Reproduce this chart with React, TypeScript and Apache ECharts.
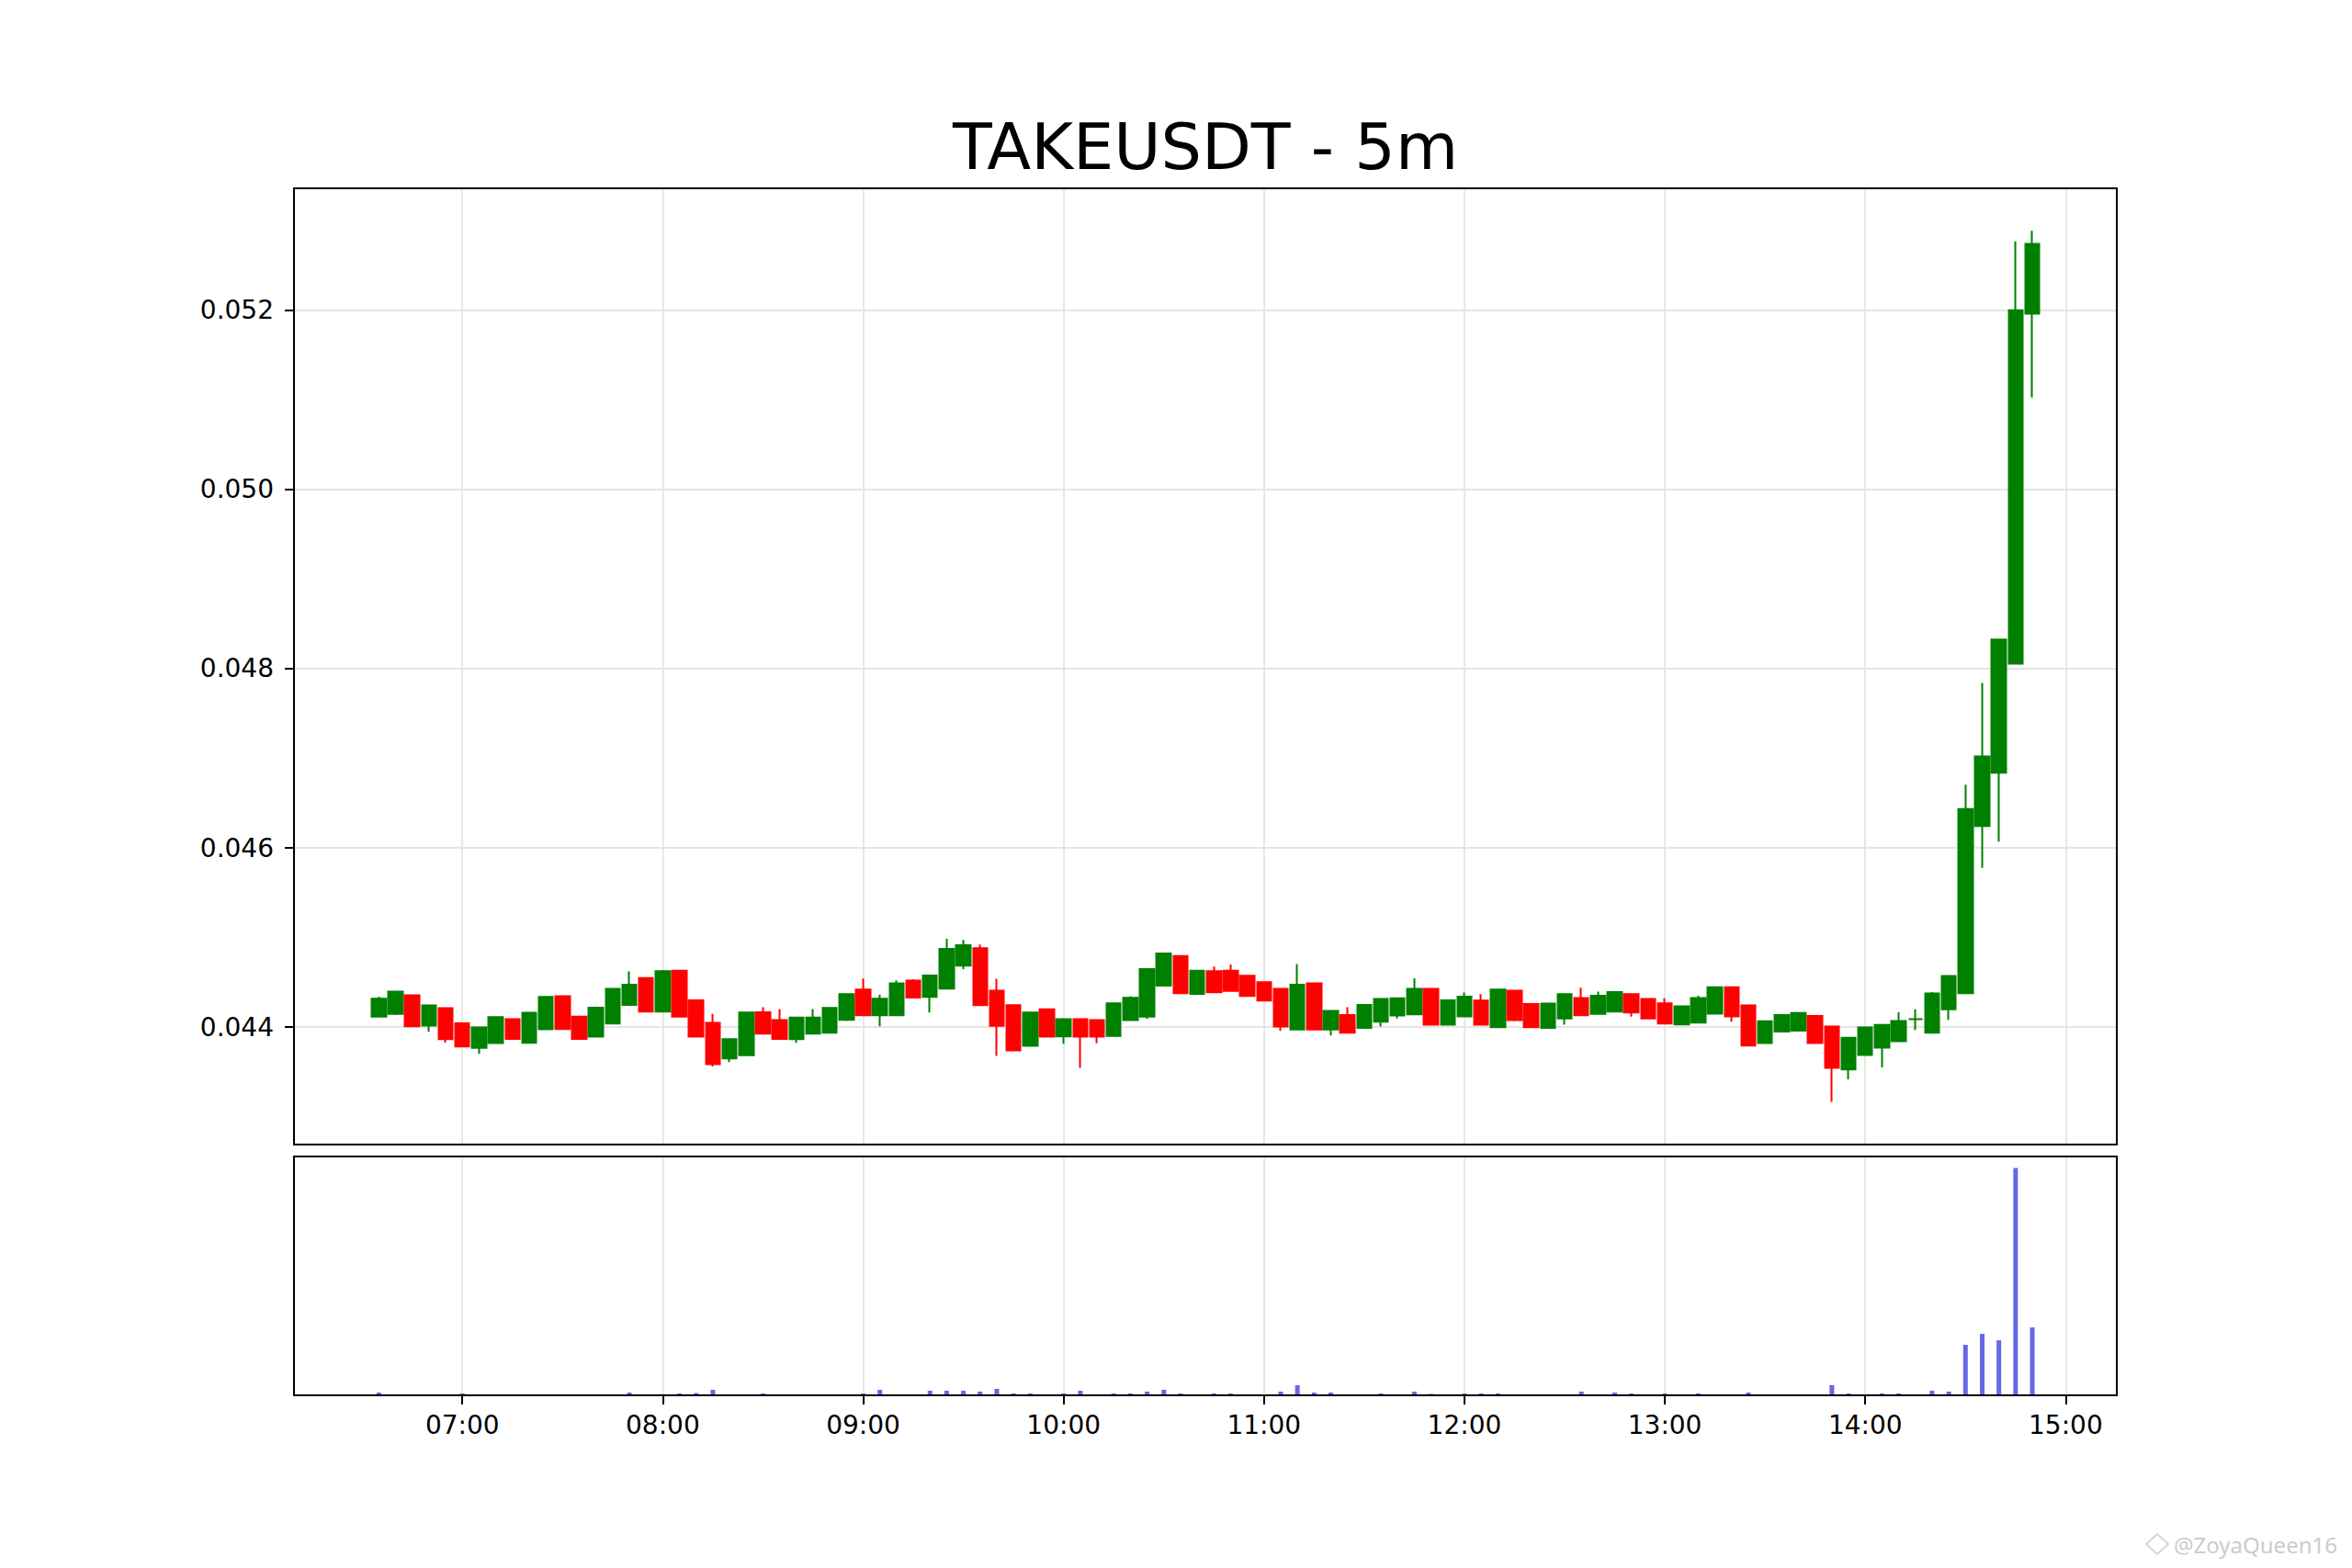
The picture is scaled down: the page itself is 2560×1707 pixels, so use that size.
import React, { useEffect, useRef } from "react";
import * as echarts from "echarts";

const TITLE = "TAKEUSDT - 5m";
const WATERMARK = "@ZoyaQueen16";

const TIMES = [
  "06:35", "06:40", "06:45", "06:50", "06:55",
  "07:00", "07:05", "07:10", "07:15", "07:20", "07:25", "07:30", "07:35", "07:40", "07:45", "07:50", "07:55",
  "08:00", "08:05", "08:10", "08:15", "08:20", "08:25", "08:30", "08:35", "08:40", "08:45", "08:50", "08:55",
  "09:00", "09:05", "09:10", "09:15", "09:20", "09:25", "09:30", "09:35", "09:40", "09:45", "09:50", "09:55",
  "10:00", "10:05", "10:10", "10:15", "10:20", "10:25", "10:30", "10:35", "10:40", "10:45", "10:50", "10:55",
  "11:00", "11:05", "11:10", "11:15", "11:20", "11:25", "11:30", "11:35", "11:40", "11:45", "11:50", "11:55",
  "12:00", "12:05", "12:10", "12:15", "12:20", "12:25", "12:30", "12:35", "12:40", "12:45", "12:50", "12:55",
  "13:00", "13:05", "13:10", "13:15", "13:20", "13:25", "13:30", "13:35", "13:40", "13:45", "13:50", "13:55",
  "14:00", "14:05", "14:10", "14:15", "14:20", "14:25", "14:30", "14:35", "14:40", "14:45", "14:50",
];

const OPEN = [
  0.044116, 0.044147, 0.044355, 0.044017, 0.044212, 0.044044, 0.043768, 0.043823, 0.044089, 0.043826,
  0.043976, 0.044345, 0.044116, 0.043894, 0.044041, 0.044249, 0.044549, 0.044174, 0.044631, 0.0443,
  0.044048, 0.043652, 0.043686, 0.044167, 0.044078, 0.043867, 0.043928, 0.043939, 0.044082, 0.04442,
  0.044133, 0.044133, 0.044519, 0.044338, 0.04443, 0.044686, 0.04488, 0.044406, 0.044246, 0.043792,
  0.044198, 0.043898, 0.044089, 0.044078, 0.043901, 0.044078, 0.044116, 0.044464, 0.044795, 0.044372,
  0.044624, 0.044631, 0.044573, 0.044502, 0.044427, 0.043973, 0.044488, 0.043973, 0.044136, 0.043993,
  0.044061, 0.04413, 0.044143, 0.044427, 0.044027, 0.044119, 0.044297, 0.044, 0.044406, 0.044259,
  0.043993, 0.044096, 0.044324, 0.044147, 0.044174, 0.044368, 0.044314, 0.044266, 0.044031, 0.044051,
  0.04415, 0.044444, 0.044242, 0.043823, 0.043952, 0.043962, 0.044126, 0.044007, 0.043529, 0.04369,
  0.043771, 0.043843, 0.04409, 0.043939, 0.044198, 0.044379, 0.046245, 0.046838, 0.048056, 0.051962,
];

const HIGH = [
  0.044341, 0.044396, 0.044355, 0.044242, 0.044212, 0.044044, 0.043997, 0.044113, 0.044089, 0.04416,
  0.044338, 0.044345, 0.044116, 0.044218, 0.044427, 0.044621, 0.044549, 0.044638, 0.044631, 0.0443,
  0.044147, 0.043867, 0.044164, 0.044222, 0.044201, 0.044106, 0.044201, 0.044215, 0.044368, 0.044543,
  0.044362, 0.044522, 0.044536, 0.044577, 0.044986, 0.044972, 0.044921, 0.044539, 0.044246, 0.044164,
  0.044198, 0.044089, 0.044089, 0.044078, 0.044266, 0.044345, 0.044648, 0.044822, 0.044795, 0.044631,
  0.044676, 0.044699, 0.044573, 0.044502, 0.044427, 0.044703, 0.044488, 0.044181, 0.044222, 0.044249,
  0.044314, 0.044321, 0.044546, 0.044427, 0.0443, 0.044386, 0.044368, 0.04442, 0.044406, 0.044259,
  0.044263, 0.044368, 0.04444, 0.044396, 0.044392, 0.044368, 0.044314, 0.044321, 0.044232, 0.044351,
  0.044444, 0.044444, 0.044242, 0.044065, 0.044136, 0.044157, 0.044126, 0.044007, 0.043881, 0.043997,
  0.044024, 0.044167, 0.044198, 0.044392, 0.04457, 0.046706, 0.04784, 0.048325, 0.052767, 0.052885,
];

const LOW = [
  0.044116, 0.044136, 0.04401, 0.043949, 0.043829, 0.043785, 0.043703, 0.043823, 0.04387, 0.043826,
  0.043976, 0.04398, 0.04387, 0.043894, 0.044041, 0.044249, 0.044174, 0.044174, 0.044116, 0.043894,
  0.04356, 0.043611, 0.043686, 0.043928, 0.04387, 0.043826, 0.043928, 0.043939, 0.044068, 0.044133,
  0.04401, 0.044133, 0.044331, 0.044164, 0.04443, 0.044645, 0.044246, 0.043679, 0.043741, 0.043792,
  0.043894, 0.043816, 0.043546, 0.043819, 0.043901, 0.044078, 0.044092, 0.044464, 0.044379, 0.044358,
  0.044389, 0.044403, 0.044348, 0.044297, 0.043959, 0.043973, 0.043973, 0.043908, 0.043939, 0.043993,
  0.044007, 0.044096, 0.044143, 0.044027, 0.044027, 0.044119, 0.044027, 0.044, 0.044065, 0.044,
  0.043993, 0.044027, 0.044133, 0.044147, 0.044174, 0.044116, 0.044096, 0.044041, 0.044031, 0.044051,
  0.04415, 0.044061, 0.043795, 0.043823, 0.043952, 0.043962, 0.043823, 0.043167, 0.043417, 0.04369,
  0.04355, 0.043843, 0.043969, 0.043939, 0.044082, 0.044379, 0.045779, 0.04607, 0.048056, 0.051026,
];

const CLOSE = [
  0.044317, 0.044396, 0.04401, 0.044242, 0.043867, 0.043785, 0.043997, 0.044113, 0.04387, 0.04416,
  0.044338, 0.04398, 0.04387, 0.044218, 0.044427, 0.044474, 0.044174, 0.044624, 0.044116, 0.043894,
  0.043587, 0.043867, 0.044164, 0.043928, 0.04387, 0.044106, 0.044106, 0.044215, 0.044368, 0.044133,
  0.044317, 0.044488, 0.044331, 0.044577, 0.044873, 0.044914, 0.044246, 0.044014, 0.043741, 0.044164,
  0.043894, 0.044089, 0.043894, 0.043894, 0.044266, 0.044328, 0.044648, 0.044822, 0.044379, 0.044631,
  0.044389, 0.044403, 0.044348, 0.044297, 0.044007, 0.044474, 0.043973, 0.044181, 0.043939, 0.044249,
  0.044314, 0.044321, 0.044427, 0.044027, 0.0443, 0.044341, 0.044027, 0.04442, 0.044078, 0.044,
  0.044263, 0.044368, 0.044133, 0.044351, 0.044392, 0.044164, 0.044096, 0.044041, 0.044232, 0.044324,
  0.044444, 0.044119, 0.043795, 0.044065, 0.044136, 0.044157, 0.043823, 0.043546, 0.043881, 0.043997,
  0.044024, 0.044068, 0.04409, 0.044375, 0.04457, 0.046433, 0.047021, 0.048325, 0.052, 0.052739,
];

const VOLUME = [
  30000, 5000, 3000, 5000, 4000, 20000, 5000, 4000, 10000, 10000,
  5000, 4000, 5000, 3000, 8000, 30000, 10000, 12000, 20000, 25000,
  60000, 10000, 10000, 20000, 5000, 3000, 5000, 5000, 10000, 20000,
  60000, 10000, 10000, 50000, 50000, 50000, 40000, 70000, 20000, 20000,
  10000, 20000, 50000, 10000, 20000, 20000, 40000, 60000, 20000, 10000,
  20000, 20000, 10000, 5000, 40000, 110000, 30000, 30000, 10000, 5000,
  20000, 5000, 40000, 15000, 5000, 20000, 20000, 20000, 5000, 5000,
  5000, 10000, 40000, 10000, 30000, 20000, 5000, 20000, 5000, 20000,
  10000, 10000, 30000, 10000, 5000, 10000, 5000, 110000, 20000, 5000,
  20000, 20000, 3000, 50000, 40000, 550000, 670000, 600000, 2480000, 740000,
];

const PRICE_TICKS = [0.044, 0.046, 0.048, 0.05, 0.052];
const HOUR_TICKS = ["07:00", "08:00", "09:00", "10:00", "11:00", "12:00", "13:00", "14:00", "15:00"];

// axis extents (minutes since midnight / price)
const X_MIN = 369.6;
const X_MAX = 915.3;
const Y_MIN = 0.04269;
const Y_MAX = 0.05336;

const toMin = (s: string) => {
  const [h, m] = s.split(":").map(Number);
  return h * 60 + m;
};
const fmtMin = (v: number) => {
  const h = Math.floor(v / 60);
  const m = Math.round(v - h * 60);
  return String(h).padStart(2, "0") + ":" + String(m).padStart(2, "0");
};

const FONT = "DejaVu Sans";
const GREEN = "#008000";
const RED = "#ff0000";
const GRID_COLOR = "#e5e5e5";

export default function App() {
  const ref = useRef<HTMLDivElement>(null);

  useEffect(() => {
    if (!ref.current) return;
    const chart = echarts.init(ref.current, null, { renderer: "svg" });

    const xs = TIMES.map(toMin);
    const candleData = xs.map((x, i) => [x, OPEN[i], CLOSE[i], LOW[i], HIGH[i]]);
    const volData = xs.map((x, i) => [x, VOLUME[i]]);
    const volMax = Math.max(...VOLUME) * 1.05;
    const hourVals = HOUR_TICKS.map(toMin);

    const gridBase = {
      left: 320,
      width: 1984,
      show: true,
      borderColor: "#000",
      borderWidth: 2,
      backgroundColor: "transparent",
      containLabel: false,
      outerBoundsMode: "none",
      z: 10,
    };

    const xCommon = {
      type: "value",
      min: X_MIN,
      max: X_MAX,
      minInterval: 60,
      maxInterval: 60,
      axisLine: { show: false, onZero: false },
      splitLine: { show: true, lineStyle: { color: GRID_COLOR, width: 1.8 } },
    };

    const option: any = {
      animation: false,
      backgroundColor: "#fff",
      textStyle: { fontFamily: FONT },
      grid: [
        { ...gridBase, top: 205, height: 1041 },
        { ...gridBase, top: 1259, height: 260 },
      ],
      xAxis: [
        {
          ...xCommon,
          gridIndex: 0,
          axisTick: { show: false },
          axisLabel: { show: false },
        },
        {
          ...xCommon,
          gridIndex: 1,
          axisTick: {
            show: true,
            length: 10,
            inside: false,
            customValues: hourVals,
            lineStyle: { color: "#000", width: 2 },
          },
          axisLabel: {
            show: true,
            customValues: hourVals,
            formatter: (v: number) => fmtMin(v),
            fontFamily: FONT,
            fontSize: 28,
            color: "#000",
            margin: 18,
          },
        },
      ],
      yAxis: [
        {
          type: "value",
          gridIndex: 0,
          min: Y_MIN,
          max: Y_MAX,
          axisLine: { show: false },
          splitLine: { show: true, lineStyle: { color: GRID_COLOR, width: 1.8 } },
          axisTick: {
            show: true,
            length: 10,
            inside: false,
            customValues: PRICE_TICKS,
            lineStyle: { color: "#000", width: 2 },
          },
          axisLabel: {
            show: true,
            customValues: PRICE_TICKS,
            formatter: (v: number) => v.toFixed(3),
            fontFamily: FONT,
            fontSize: 28,
            color: "#000",
            margin: 22,
          },
        },
        {
          type: "value",
          gridIndex: 1,
          min: 0,
          max: volMax,
          axisLine: { show: false },
          axisTick: { show: false },
          axisLabel: { show: false },
          splitLine: { show: false },
        },
      ],
      series: [
        {
          type: "candlestick",
          xAxisIndex: 0,
          yAxisIndex: 0,
          data: candleData,
          barWidth: 16,
          itemStyle: {
            color: GREEN,
            color0: RED,
            borderColor: GREEN,
            borderColor0: RED,
            borderColorDoji: GREEN,
            borderWidth: 2,
          },
        },
        {
          type: "bar",
          xAxisIndex: 1,
          yAxisIndex: 1,
          data: volData,
          barWidth: 5,
          itemStyle: { color: "#6767e6" },
        },
      ],
      graphic: [
        {
          type: "text",
          x: 1312,
          y: 160,
          style: {
            text: TITLE,
            fontFamily: FONT,
            fontSize: 70,
            fill: "#000",
            align: "center",
            verticalAlign: "middle",
          },
        },
        {
          type: "polygon",
          shape: { points: [[2348, 1670], [2360, 1681], [2348, 1692], [2336, 1681]] },
          style: { fill: "none", stroke: "#d6d6d6", lineWidth: 2 },
        },
        {
          type: "text",
          x: 2366,
          y: 1681,
          style: {
            text: WATERMARK,
            fontFamily: "Noto Sans",
            fontSize: 24,
            fill: "#cccccc",
            align: "left",
            verticalAlign: "middle",
          },
        },
      ],
    };

    chart.setOption(option);
    return () => {
      chart.dispose();
    };
  }, []);

  return (
    <div
      ref={ref}
      style={{ position: "fixed", left: 0, top: 0, width: 2560, height: 1707, background: "#fff" }}
    />
  );
}
